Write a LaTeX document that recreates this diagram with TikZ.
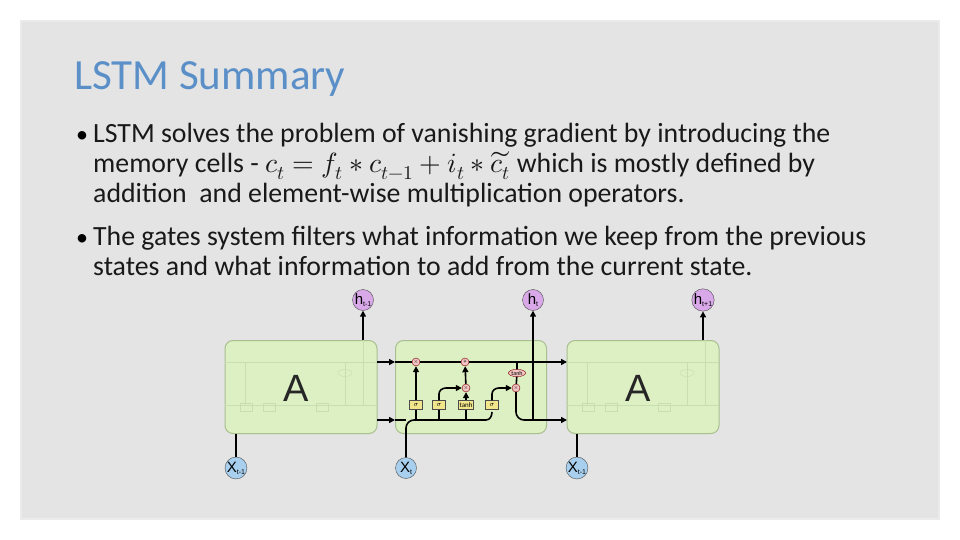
\documentclass[tikz,border=0pt]{standalone}
\usepackage{fontspec}
\usepackage{unicode-math}
\setmainfont{Carlito}
\setsansfont{Liberation Sans}
\setmathfont{Latin Modern Math}
\usetikzlibrary{arrows.meta,shapes.geometric}
\definecolor{bg}{HTML}{E4E4E4}
\definecolor{titleblue}{HTML}{5B8FC8}
\definecolor{cellgreen}{HTML}{DDF0C4}
\definecolor{cellline}{HTML}{A8C090}
\definecolor{hpurple}{HTML}{D9A8E8}
\definecolor{xblue}{HTML}{A8D0EE}
\definecolor{gateyellow}{HTML}{F2E68A}
\definecolor{oppink}{HTML}{F2C4C4}
\definecolor{faint}{HTML}{C8DDB0}
\newcommand{\sbs}[1]{\raisebox{-2pt}{\fontsize{7}{7}\selectfont #1}}
\begin{document}
\begin{tikzpicture}[x=1pt,y=-1pt,
  cell/.style={draw=cellline,fill=cellgreen,rounded corners=8pt,line width=1pt},
  hnode/.style={circle,draw=black!70,fill=hpurple,minimum size=21pt,inner sep=0pt,font=\sffamily\fontsize{15}{15}\selectfont},
  xnode/.style={circle,draw=black!70,fill=xblue,minimum size=21pt,inner sep=0pt,font=\sffamily\fontsize{15}{15}\selectfont},
  gate/.style={draw=black!70,fill=gateyellow,minimum width=13pt,minimum height=9pt,inner sep=1pt,font=\fontsize{7}{7}\selectfont},
  op/.style={circle,draw=red!50!black,fill=oppink,minimum size=8pt,inner sep=0pt,font=\fontsize{6}{6}\selectfont},
  opel/.style={ellipse,draw=red!50!black,fill=oppink,inner sep=0.5pt,font=\fontsize{6}{6}\selectfont},
  wire/.style={line width=1.6pt,black},
  arr/.style={wire,-{Triangle[length=6pt,width=6pt]}},
  fw/.style={line width=1pt,faint},
  txt/.style={anchor=base west,inner sep=0pt,font=\fontsize{27.8}{28}\selectfont,text=black!90}]
\useasboundingbox (0,0) rectangle (960,540);
\fill[white] (0,0) rectangle (960,540);
\fill[bg,draw=black!8,line width=2pt] (21,21) rectangle (939,519);
\node[anchor=base west,inner sep=0pt,text=titleblue,font=\fontsize{43}{43}\selectfont] (title) at (74,90) {LSTM Summary};
\node[anchor=base west,inner sep=0pt,font=\fontsize{24}{24}\selectfont] (b1) at (76,143) {•};
\node[anchor=base west,inner sep=0pt,font=\fontsize{24}{24}\selectfont] (b2) at (76,245) {•};
\node[txt] (l1) at (93,143) {LSTM solves the problem of vanishing gradient by introducing the};
\node[txt] (l2) at (93,173) {memory cells - $c_t=f_t*c_{t-1}+i_t*\widetilde{c_t}$ which is mostly defined by};
\node[txt] (l3) at (93,202) {addition\ \ and element-wise multiplication operators.};
\node[txt] (l4) at (93,245) {The gates system filters what information we keep from the previous};
\node[txt] (l5) at (93,275) {states and what information to add from the current state.};
% cells
\node[cell,minimum width=152pt,minimum height=93pt] (cA) at (301,387) {};
\node[cell,minimum width=151pt,minimum height=93pt] (cM) at (471,387) {};
\node[cell,minimum width=152pt,minimum height=93pt] (cB) at (643,387) {};
% faint internals in side cells
\foreach \o in {0,342}{
  \draw[fw] (225+\o,362) -- (377+\o,362);
  \draw[fw] (225+\o,405) -- (377+\o,405);
  \draw[fw] (245+\o,405) -- (245+\o,362);
  \draw[fw] (345+\o,362) -- (345+\o,405);
  \draw[fw] (363+\o,340) -- (363+\o,405);
  \node[draw=faint,minimum width=12pt,minimum height=8pt,inner sep=0pt] at (246+\o,407) {};
  \node[draw=faint,minimum width=12pt,minimum height=8pt,inner sep=0pt] at (269+\o,407) {};
  \node[draw=faint,minimum width=12pt,minimum height=8pt,inner sep=0pt] at (322+\o,407) {};
  \node[draw=faint,ellipse,minimum width=14pt,minimum height=7pt,inner sep=0pt] at (345+\o,373) {};
}
\node[font=\fontsize{38}{38}\selectfont\sffamily,text=black!85] (aA) at (296,388) {A};
\node[font=\fontsize{38}{38}\selectfont\sffamily,text=black!85] (aB) at (638,388) {A};
% h and x nodes
\node[hnode] (h1) at (363,300) {h\sbs{t-1}};
\node[hnode] (h2) at (533,300) {h\sbs{t}};
\node[hnode] (h3) at (703,300) {h\sbs{t+1}};
\node[xnode] (x1) at (236,468) {X\sbs{t-1}};
\node[xnode] (x2) at (406,468) {X\sbs{t}};
\node[xnode] (x3) at (577,468) {X\sbs{t-1}};
% connectors side cells
\coordinate (a1) at (363,340);
\coordinate (a3) at (703,340);
\draw[arr] (a1) -- (h1);
\draw[arr] (a3) -- (h3);
\draw[wire] (x1) -- (236,434);
\draw[wire] (x3) -- (577,434);
% middle internals
\node[op] (mf) at (416,362) {$\times$};
\node[op] (ma) at (465,362) {+};
\node[op] (mi) at (466,388) {$\times$};
\node[opel] (th) at (517,373) {tanh};
\node[op] (mo) at (516,388) {$\times$};
\node[gate] (g1) at (416,405) {$\sigma$};
\node[gate] (g2) at (439,405) {$\sigma$};
\node[gate] (g3) at (466,405) {tanh};
\node[gate] (g4) at (492,405) {$\sigma$};
\coordinate (ctin) at (377,362);
\coordinate (htin) at (377,420);
\draw[arr] (ctin) -- (cM.west |- ctin);
\draw[arr] (htin) -- (cM.west |- htin);
\draw[wire] (cM.west |- ctin) -- (mf) -- (ma);
\draw[arr] (ma) -- (567,362);
\draw[wire] (x2) -- (406,428) to[out=90,in=180] (414,420) -- (486,420) to[out=0,in=-90] (492,412);
\draw[wire] (cM.west |- htin) -- (406,420);
\draw[wire] (416,420) -- (g1); \draw[wire] (439,420) -- (g2); \draw[wire] (466,420) -- (g3);
\draw[arr] (g1) -- (mf);
\draw[arr] (g2.north) -- (439,394) to[out=90,in=180] (446,388) -- (mi);
\draw[arr] (g3) -- (mi);
\draw[arr] (mi) -- (ma);
\draw[arr] (g4.north) -- (492,394) to[out=90,in=180] (499,388) -- (mo);
\draw[wire] (517,362) -- (th) -- (mo);
\draw[wire] (mo) -- (516,412) to[out=-90,in=180] (524,420) -- (533,420);
\draw[arr] (533,420) -- (567,420);
\draw[arr] (533,420) -- (h2);
\end{tikzpicture}
\end{document}
